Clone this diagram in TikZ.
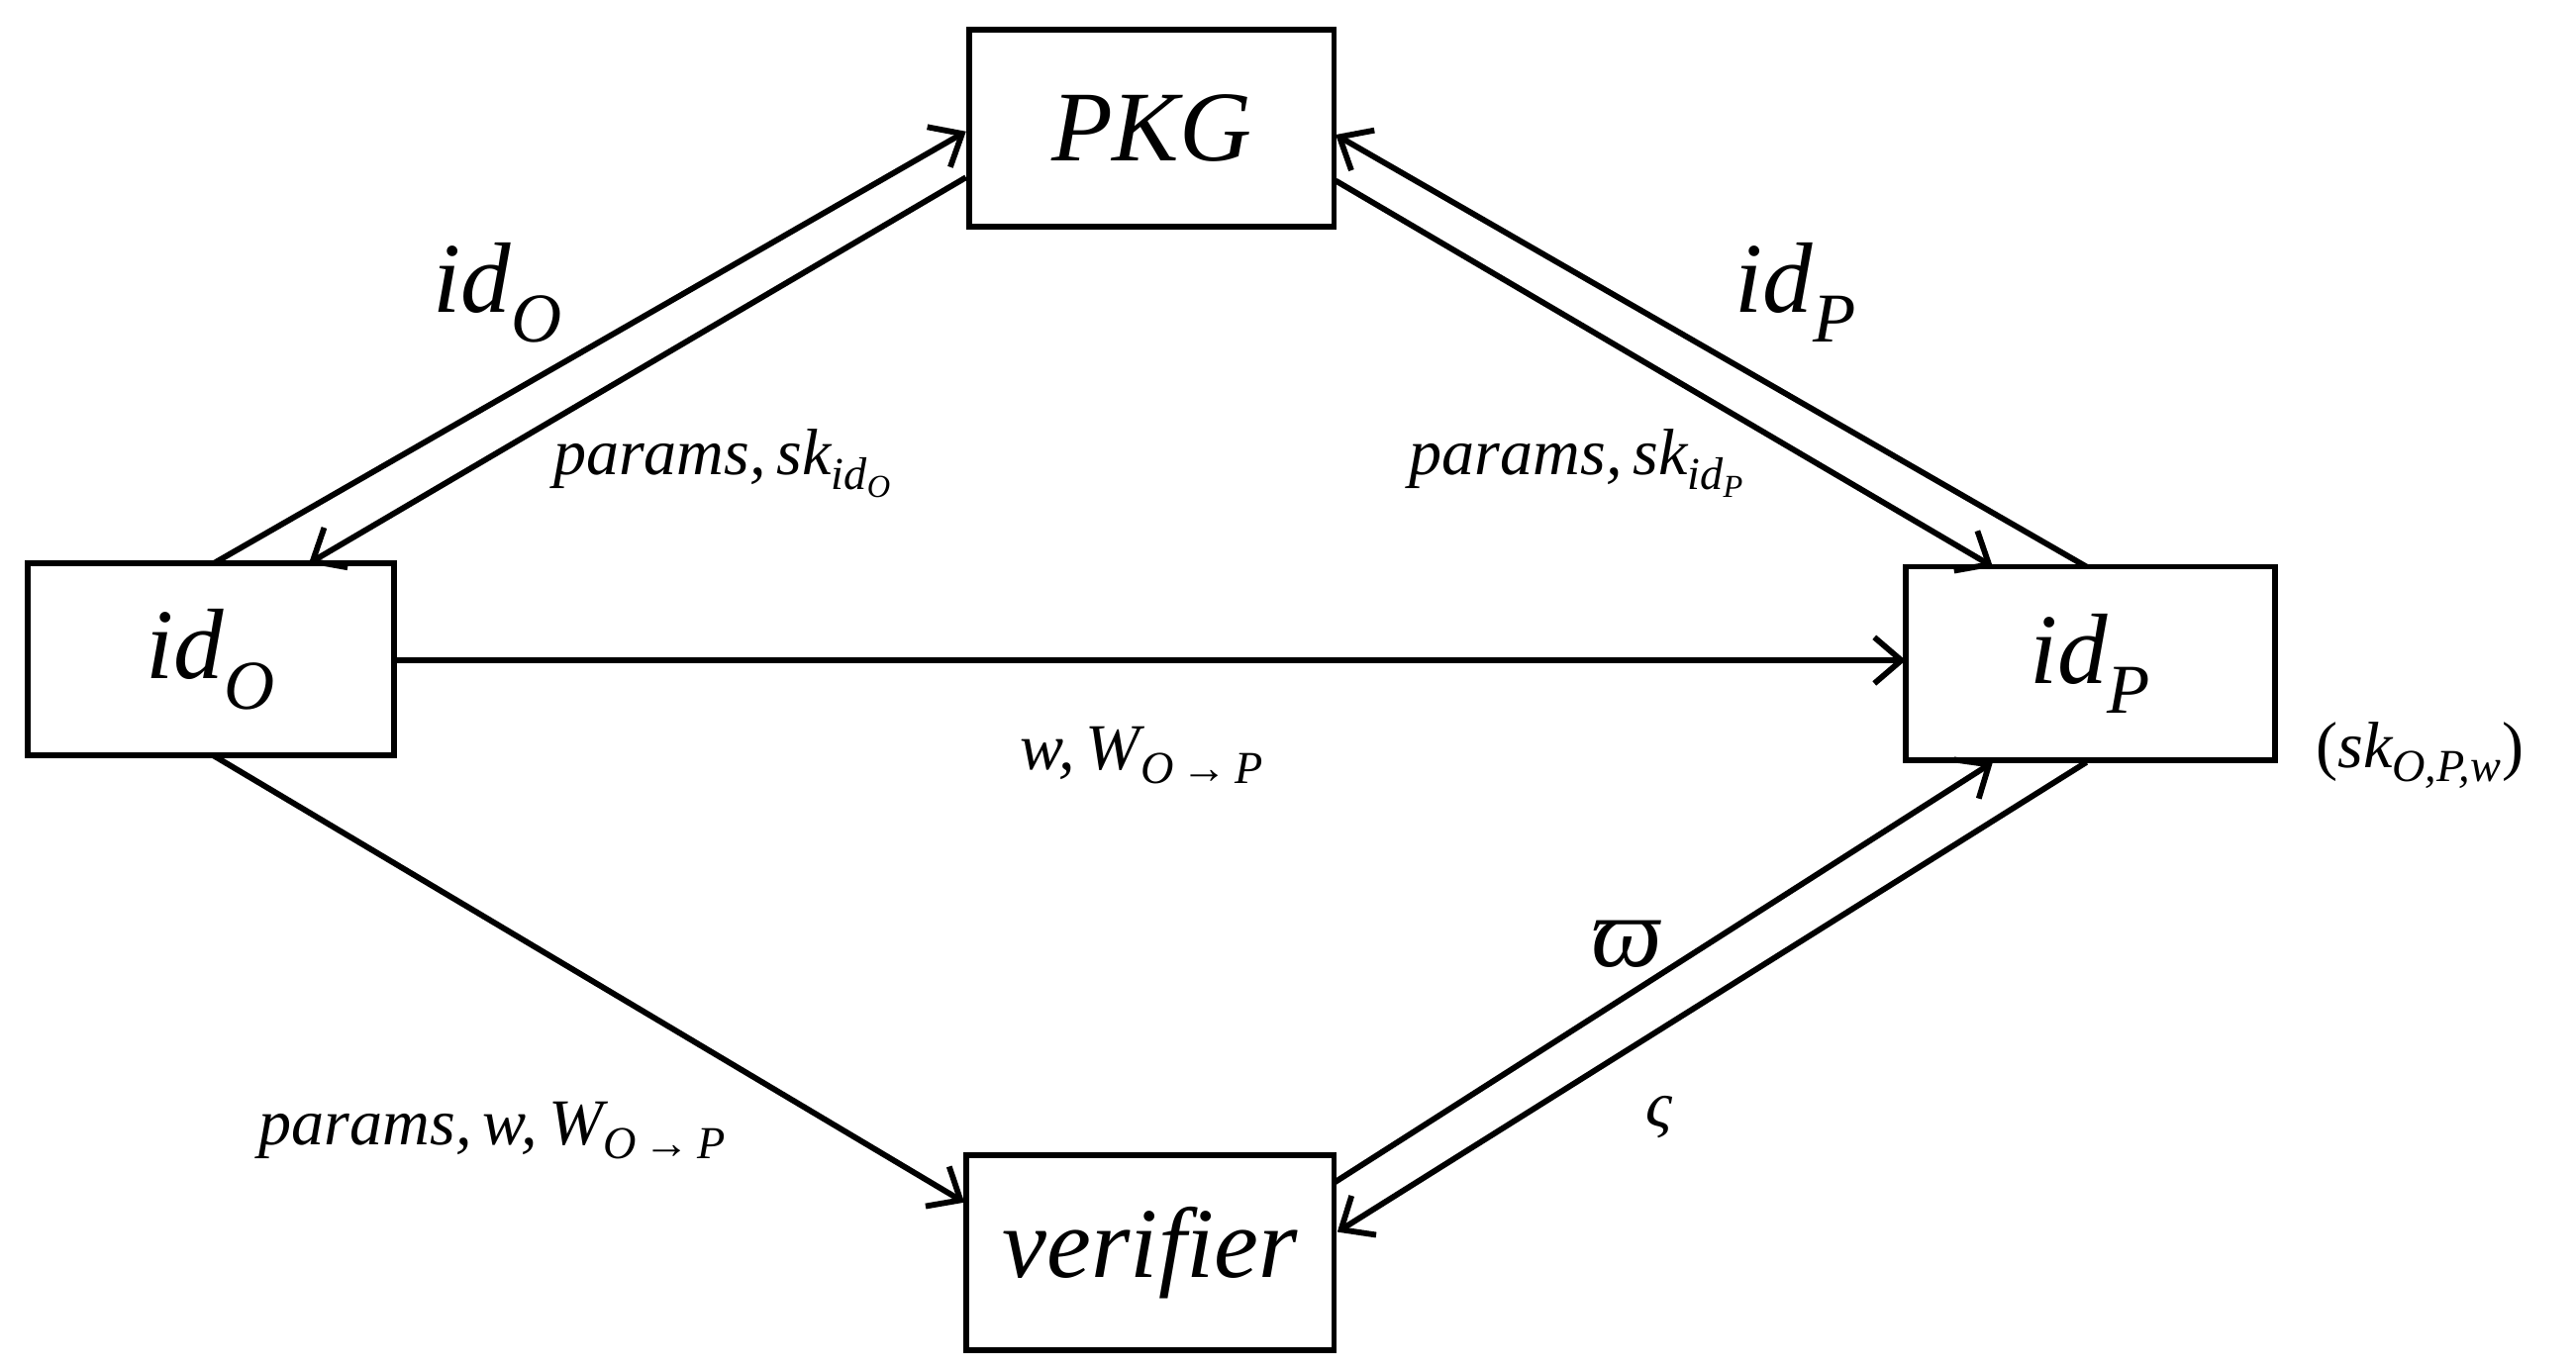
\documentclass[tikz,border=0pt]{standalone}
\usetikzlibrary{arrows.meta}
\usepackage{fontspec}
\setmainfont{Liberation Serif}
\newcommand{\sbi}[1]{\textsubscript{\textit{#1}}}
\begin{document}
\begin{tikzpicture}[x=0.03cm,y=-0.03cm,
 box/.style={draw,line width=3pt,inner sep=0pt},
 ar/.style={line width=3pt,-{Straight Barb[length=14pt,width=24pt]}},
 big/.style={font=\fontsize{52}{56}\selectfont\itshape},
 lab/.style={font=\fontsize{34}{38}\selectfont\itshape}]
\useasboundingbox (0,0) rectangle (1568,833);
\node[box,minimum width=222*0.03cm,minimum height=120*0.03cm,big] (pkg) at (701,78) {PKG};
\node[box,minimum width=223*0.03cm,minimum height=117*0.03cm,big] (o) at (128.5,401.5) {id\sbi{O}};
\node[box,minimum width=225*0.03cm,minimum height=118*0.03cm,big] (p) at (1272.5,404) {id\sbi{P}};
\node[box,minimum width=224*0.03cm,minimum height=119*0.03cm,big] (v) at (700,762.5) {verifier};
\coordinate (a1) at (130,343); \coordinate (a2) at (588,80);
\coordinate (b1) at (588,108); \coordinate (b2) at (188,343);
\coordinate (c1) at (1270,345); \coordinate (c2) at (813,82);
\coordinate (d1) at (813,110); \coordinate (d2) at (1213,345);
\coordinate (e1) at (240,402); \coordinate (e2) at (1160,402);
\coordinate (f1) at (130,460); \coordinate (f2) at (587,732);
\coordinate (g1) at (812,720); \coordinate (g2) at (1213,464);
\coordinate (h1) at (1270,464); \coordinate (h2) at (814,750);
\draw[ar] (a1)--(a2); \draw[ar] (b1)--(b2);
\draw[ar] (c1)--(c2); \draw[ar] (d1)--(d2);
\draw[ar] (e1)--(e2); \draw[ar] (f1)--(f2);
\draw[ar] (g1)--(g2); \draw[ar] (h1)--(h2);
\node[big] (l1) at (303,178) {id\sbi{O}};
\node[big] (l2) at (1093,178) {id\sbi{P}};
\node[lab] (l3) at (440,282) {params,\,sk\textsubscript{id\textsubscript{O}}};
\node[lab] (l4) at (960,282) {params,\,sk\textsubscript{id\textsubscript{P}}};
\node[lab] (l5) at (695,460) {w,\,W\textsubscript{O\,→\,P}};
\node[lab] (l6) at (1473,460) {\upshape(\itshape sk\textsubscript{O,P,w}\upshape)};
\node[big] (l7) at (990,575) {ϖ};
\node[lab] (l8) at (1010,680) {ς};
\node[lab] (l9) at (300,688) {params,\,w,\,W\textsubscript{O\,→\,P}};
\end{tikzpicture}
\end{document}
